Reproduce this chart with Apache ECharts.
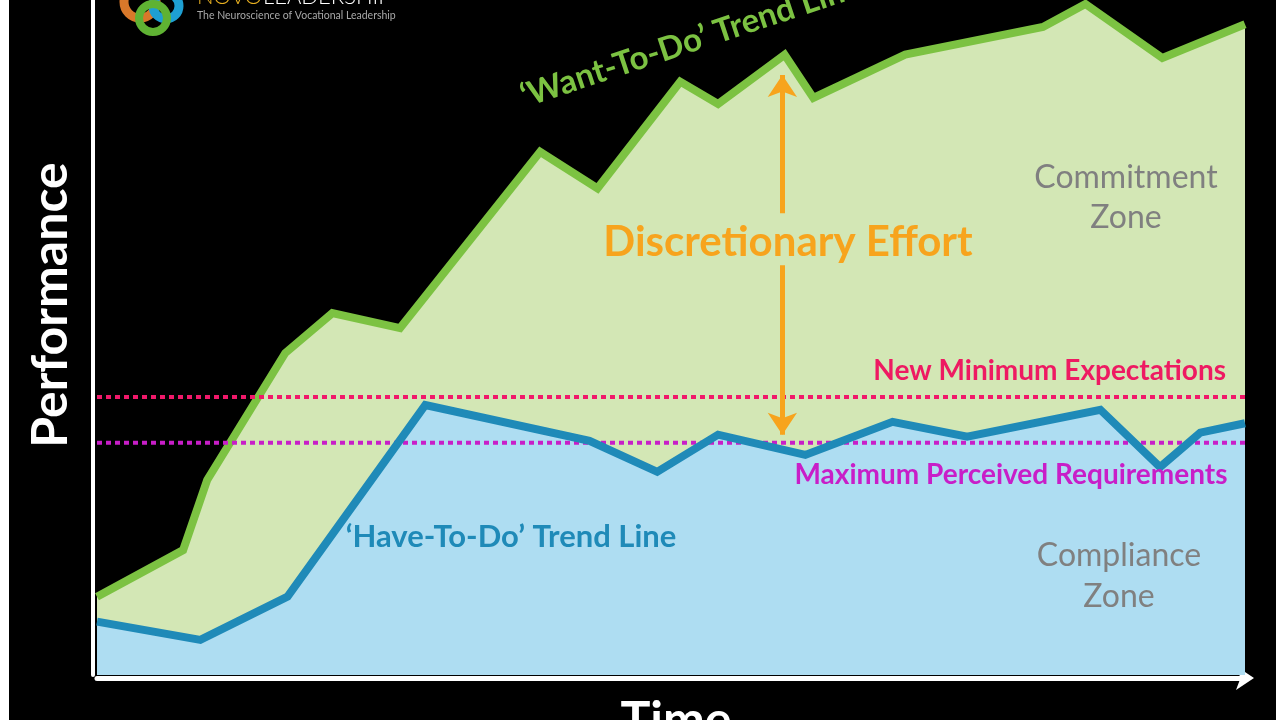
<!DOCTYPE html>
<html>
<head>
<meta charset="utf-8">
<script src="https://cdn.jsdelivr.net/npm/echarts@6/dist/echarts.min.js"></script>
<style>
html,body{margin:0;padding:0;background:#fff;}
#chart{width:1280px;height:720px;}
</style>
</head>
<body>
<div id="chart"></div>
<script>
// Time positions (0..100) and performance values (0..100)
const timeWant = [0, 7.5, 9.6, 16.4, 20.5, 26.4, 38.6, 43.6, 50.8, 54.1, 59.9, 62.4, 70.4, 82.4, 86.1, 92.8, 100];
const wantToDo = [11.6, 18.5, 28.9, 47.7, 53.6, 51.4, 77.5, 72.1, 87.9, 84.6, 91.9, 85.5, 91.9, 96.0, 99.4, 91.4, 96.4];
const timeHave = [0, 9.0, 16.6, 28.6, 42.9, 48.8, 54.1, 61.7, 69.3, 75.8, 87.4, 92.6, 96.1, 100];
const haveToDo = [7.9, 5.2, 11.6, 40.0, 34.7, 30.1, 35.6, 32.6, 37.5, 35.3, 39.3, 30.8, 35.9, 37.3];
const newMinimumExpectations = 41.2;
const maxPerceivedRequirements = 34.4;
const effortTime = 59.7;
const effortUpper = [68.4, 88.9];
const effortLower = [60.7, 35.6];

const pairs = (xs, ys) => xs.map((x, i) => [x, ys[i]]);

const FONT = 'Lato, "Open Sans", sans-serif';
const chart = echarts.init(document.getElementById('chart'));

const option = {
  backgroundColor: '#000',
  animation: false,
  grid: { left: 97, right: 35, top: 0, bottom: 45 },
  xAxis: {
    type: 'value', min: 0, max: 100, offset: 3,
    axisLine: { show: true, onZero: false, lineStyle: { color: '#fff', width: 5 }, symbol: ['none', 'arrow'], symbolSize: [18, 18], symbolOffset: [0, 9] },
    axisTick: { show: false }, axisLabel: { show: false }, splitLine: { show: false }
  },
  yAxis: {
    type: 'value', min: 0, max: 100, offset: 4,
    axisLine: { show: true, onZero: false, lineStyle: { color: '#fff', width: 4 } },
    axisTick: { show: false }, axisLabel: { show: false }, splitLine: { show: false }
  },
  series: [
    {
      name: 'Want-To-Do', type: 'line', data: pairs(timeWant, wantToDo), symbol: 'none', z: 2,
      lineStyle: { color: '#7cc242', width: 8, join: 'miter' },
      areaStyle: { color: '#d3e7b5', opacity: 1 },
      markLine: {
        silent: true, animation: false, label: { show: false },
        lineStyle: { color: '#f7a41d', width: 5, type: 'solid' },
        symbolSize: [22, 22],
        data: [
          [{ coord: [effortTime, effortUpper[0]], symbol: 'none' }, { coord: [effortTime, effortUpper[1]], symbol: 'arrow' }],
          [{ coord: [effortTime, effortLower[0]], symbol: 'none' }, { coord: [effortTime, effortLower[1]], symbol: 'arrow' }]
        ]
      }
    },
    {
      name: 'New Minimum Expectations', type: 'line', symbol: 'none', z: 3,
      data: [[0, newMinimumExpectations], [100, newMinimumExpectations]],
      lineStyle: { color: '#f0196a', width: 4, type: [5, 4] }
    },
    {
      name: 'Have-To-Do area', type: 'line', data: pairs(timeHave, haveToDo), symbol: 'none', z: 4,
      lineStyle: { width: 0 },
      areaStyle: { color: '#aeddf2', opacity: 1 }
    },
    {
      name: 'Maximum Perceived Requirements', type: 'line', symbol: 'none', z: 5,
      data: [[0, maxPerceivedRequirements], [100, maxPerceivedRequirements]],
      lineStyle: { color: '#c81ec8', width: 4, type: [5, 4] }
    },
    {
      name: 'Have-To-Do', type: 'line', data: pairs(timeHave, haveToDo), symbol: 'none', z: 6,
      lineStyle: { color: '#1f8ab8', width: 8, join: 'miter' }
    }
  ],
  graphic: [
    { type: 'rect', shape: { x: 0, y: 0, width: 9, height: 720 }, style: { fill: '#fff' }, z: 100 },
    { type: 'rect', shape: { x: 1276, y: 0, width: 4, height: 720 }, style: { fill: '#fff' }, z: 100 },
    // logo
    { type: 'circle', shape: { cx: 140, cy: 2, r: 16 }, style: { fill: 'none', stroke: '#d9782a', lineWidth: 9 }, z: 100 },
    { type: 'circle', shape: { cx: 166, cy: 6, r: 13 }, style: { fill: 'none', stroke: '#1e9fd2', lineWidth: 9 }, z: 101 },
    { type: 'circle', shape: { cx: 153, cy: 18, r: 14 }, style: { fill: 'none', stroke: '#5fb233', lineWidth: 8 }, z: 102 },
    { type: 'text', z: 100, style: { text: 'NOVO', x: 197, y: 8, align: 'left', verticalAlign: 'bottom', font: '300 22px ' + FONT, fill: '#e8b020' } },
    { type: 'text', z: 100, style: { text: 'LEADERSHIP', x: 263, y: 8, align: 'left', verticalAlign: 'bottom', font: '300 22px ' + FONT, fill: '#ffffff' } },
    { type: 'text', z: 100, style: { text: 'The Neuroscience of Vocational Leadership', x: 197, y: 16, align: 'left', verticalAlign: 'middle', font: '10.5px ' + FONT, fill: '#a8a8a8' } },
    // axis titles
    { type: 'text', z: 100, x: 51, y: 305, rotation: Math.PI / 2, style: { text: 'Performance', x: 0, y: 0, align: 'center', verticalAlign: 'middle', font: 'bold 50px ' + FONT, fill: '#fff' } },
    { type: 'text', z: 100, style: { text: 'Time', x: 676, y: 721, align: 'center', verticalAlign: 'middle', font: 'bold 50px ' + FONT, fill: '#fff' } },
    // annotations
    { type: 'text', z: 100, style: { text: 'Discretionary Effort', x: 788, y: 242, align: 'center', verticalAlign: 'middle', font: 'bold 42px ' + FONT, fill: '#f7a41d' } },
    { type: 'text', z: 100, style: { text: 'Commitment\nZone', x: 1126, y: 198, align: 'center', verticalAlign: 'middle', lineHeight: 40, font: '32px ' + FONT, fill: '#808080' } },
    { type: 'text', z: 100, style: { text: 'Compliance\nZone', x: 1119, y: 576, align: 'center', verticalAlign: 'middle', lineHeight: 41, font: '32px ' + FONT, fill: '#808080' } },
    { type: 'text', z: 100, style: { text: 'New Minimum Expectations', x: 1226, y: 371, align: 'right', verticalAlign: 'middle', font: 'bold 28px ' + FONT, fill: '#ee1a62' } },
    { type: 'text', z: 100, style: { text: 'Maximum Perceived Requirements', x: 1011, y: 475, align: 'center', verticalAlign: 'middle', font: 'bold 28px ' + FONT, fill: '#c81ec8' } },
    { type: 'text', z: 100, style: { text: '\u2018Have-To-Do\u2019 Trend Line', x: 511, y: 537, align: 'center', verticalAlign: 'middle', font: 'bold 31px ' + FONT, fill: '#1f8ab8' } },
    { type: 'text', z: 100, x: 527, y: 113, rotation: 0.32, style: { text: '\u2018Want-To-Do\u2019 Trend Line', x: 0, y: 0, align: 'left', verticalAlign: 'bottom', font: 'bold 33px ' + FONT, fill: '#7cc242' } }
  ]
};
chart.setOption(option);
</script>
</body>
</html>
